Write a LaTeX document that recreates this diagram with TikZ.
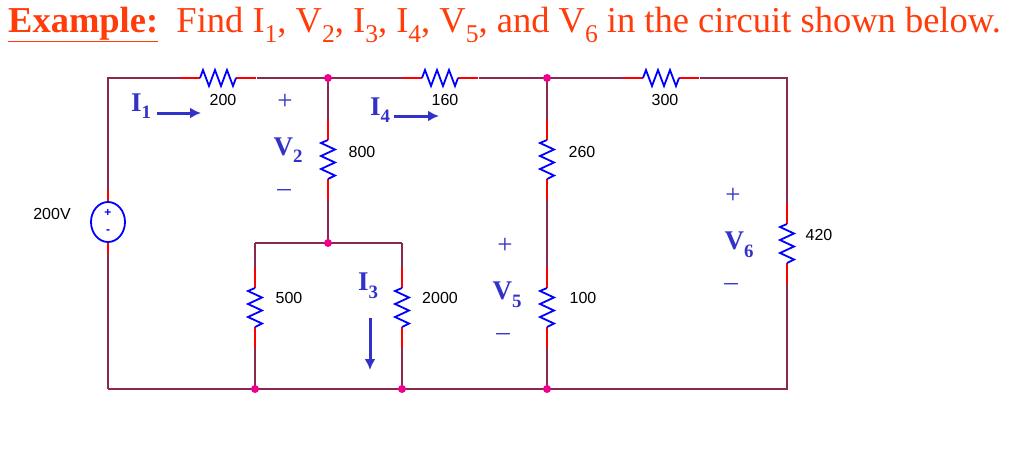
\documentclass[tikz,border=0pt]{standalone}
\usepackage{fontspec}
\setmainfont{Liberation Serif}
\setsansfont{Liberation Sans}
\newcommand{\sbs}[1]{\raisebox{-0.28em}{\fontsize{0.7em}{0.7em}\selectfont #1}}
\begin{document}
\begin{tikzpicture}[x=1pt,y=-1pt,
  wire/.style={draw=wirec,line width=2.2pt},
  lead/.style={draw=red,line width=2.2pt},
  zig/.style={draw=blue,line width=1.8pt,line join=miter},
  dot/.style={circle,fill=magenta,inner sep=0pt,minimum size=8pt},
  val/.style={font=\sffamily\fontsize{16}{16}\selectfont},
  lab/.style={font=\bfseries\fontsize{27}{27}\selectfont,text=ibl},
  pm/.style={font=\fontsize{27}{27}\selectfont,text=ibl},
  arr/.style={draw=ibl,line width=3pt,-{Latex[length=11pt,width=11pt]}}]
\usetikzlibrary{arrows.meta}
\definecolor{wirec}{RGB}{140,40,80}
\definecolor{ibl}{RGB}{50,50,200}
\definecolor{ttl}{RGB}{255,60,10}
\useasboundingbox (0,0) rectangle (1020,466);
% title
\node[anchor=base west,inner sep=0pt,text=ttl,font=\fontsize{36.5}{36}\selectfont] (title) at (8,32)
 {\textbf{\underline{Example:}}\ \ Find I\sbs{1}, V\sbs{2}, I\sbs{3}, I\sbs{4}, V\sbs{5}, and V\sbs{6} in the circuit shown below.};
% junctions
\coordinate (tl) at (108,78); \coordinate (bl) at (108,389);
\coordinate (tr) at (787,78); \coordinate (br) at (787,389);
\coordinate (ml) at (255,243); \coordinate (mr) at (402,243);
\coordinate (a) at (328,78); \coordinate (b) at (547,78); \coordinate (m) at (328,243);
\coordinate (c) at (255,389); \coordinate (d) at (402,389); \coordinate (e) at (547,389);
% wires
\draw[wire] (bl) -- (tl) -- (a) -- (b) -- (tr) -- (br) -- (e) -- (d) -- (c) -- (bl);
\draw[wire] (a) -- (m); \draw[wire] (b) -- (e);
\draw[wire] (ml) -- (mr); \draw[wire] (ml) -- (c); \draw[wire] (mr) -- (d);
% horizontal resistors
\foreach \x in {200,422,643}{
  \fill[white] (\x-20,69) rectangle (\x+57,88);
  \draw[lead] (\x-20,78) -- (\x,78); \draw[lead] (\x+36,78) -- (\x+56,78);
  \draw[zig] (\x,78) -- ++(3,-8) -- ++(6,16) -- ++(6,-16) -- ++(6,16) -- ++(6,-16) -- ++(6,16) -- ++(3,-8);
}
% vertical resistors
\foreach \x/\y in {328/140,547/140,255/288,402/288,547/288,787/224}{
  \fill[white] (\x-10,\y-20) rectangle (\x+10,\y+60);
  \draw[lead] (\x,\y-20) -- (\x,\y); \draw[lead] (\x,\y+39) -- (\x,\y+60);
  \draw[zig] (\x,\y) -- ++(-7,3) -- ++(14,6.5) -- ++(-14,6.5) -- ++(14,6.5) -- ++(-14,6.5) -- ++(14,6.5) -- ++(-7,3.5);
}
\node[dot] (na) at (a) {}; \node[dot] (nb) at (b) {}; \node[dot] (nm) at (m) {};
\node[dot] (nc) at (c) {}; \node[dot] (nd) at (d) {}; \node[dot] (ne) at (e) {};
% source
\fill[white] (92,196) rectangle (124,248);
\draw[lead] (108,190) -- (108,202); \draw[lead] (108,242) -- (108,254);
\draw[draw=blue,line width=1.8pt] (108,222) ellipse (17pt and 20pt);
\node[text=blue,font=\sffamily\bfseries\fontsize{12}{12}\selectfont] (sp) at (108,213) {+};
\node[text=blue,font=\sffamily\bfseries\fontsize{12}{12}\selectfont] (sm) at (108,232) {-};
\node[val] (vs) at (52,214) {200V};
% values
\node[val] (r1) at (223,100) {200};
\node[val] (r4) at (445,100) {160};
\node[val] (r6) at (665,100) {300};
\node[val] (r2) at (362,152) {800};
\node[val] (r5) at (582,152) {260};
\node[val] (r3a) at (289,298) {500};
\node[val] (r3b) at (440,298) {2000};
\node[val] (r5b) at (583,298) {100};
\node[val] (r7) at (819,235) {420};
% labels
\node[lab] (i1) at (141,106) {I\sbs{1}};
\coordinate (i1a) at (157,113); \coordinate (i1b) at (201,113);
\draw[arr] (i1a) -- (i1b);
\node[lab] (i4) at (380,110) {I\sbs{4}};
\coordinate (i4a) at (394,116); \coordinate (i4b) at (439,116);
\draw[arr] (i4a) -- (i4b);
\node[lab] (i3) at (368,286) {I\sbs{3}};
\coordinate (i3a) at (370,318); \coordinate (i3b) at (370,370);
\draw[arr] (i3a) -- (i3b);
\node[pm] (v2p) at (285,102) {+};
\node[lab] (v2) at (288,150) {V\sbs{2}};
\node[pm] (v2m) at (284,193) {\textendash};
\node[pm] (v5p) at (505,246) {+};
\node[lab] (v5) at (507,295) {V\sbs{5}};
\node[pm] (v5m) at (503,337) {\textendash};
\node[pm] (v6p) at (733,196) {+};
\node[lab] (v6) at (739,245) {V\sbs{6}};
\node[pm] (v6m) at (731,287) {\textendash};
\end{tikzpicture}
\end{document}
